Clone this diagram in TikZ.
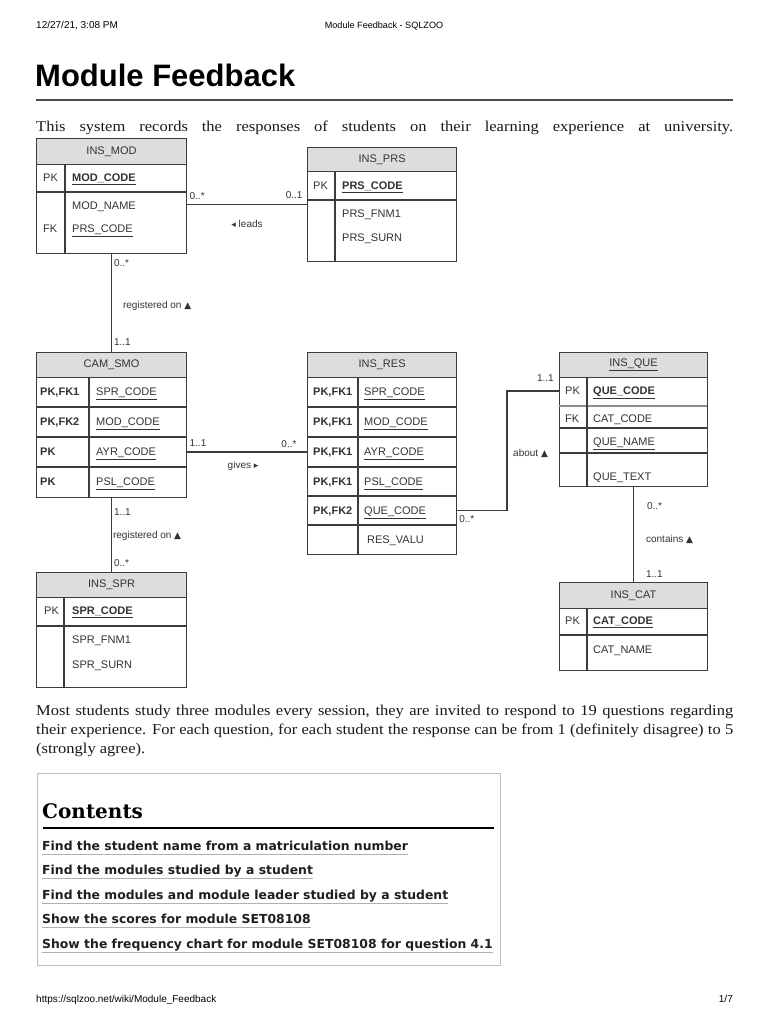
\documentclass[tikz,border=0pt]{standalone}
\usepackage{fontspec}
\setmainfont{Liberation Serif}
\setsansfont{Liberation Sans}
\newfontfamily\bodyfamily{Liberation Serif}[FakeStretch=1.10]
\newfontfamily\erfont{Liberation Sans}
\newfontfamily\symfont{DejaVu Sans}
\newfontfamily\lnkfamily{DejaVu Sans}
\newfontfamily\headfamily{DejaVu Serif}
\usetikzlibrary{positioning}

\definecolor{linegray}{HTML}{3C3C3C}
\definecolor{hdrgray}{HTML}{DDDDDD}
\definecolor{ertext}{HTML}{333333}
\definecolor{framegray}{HTML}{BDBDBD}
\definecolor{ulgray}{HTML}{B0B0B0}

\newcommand\ersize{\erfont\fontsize{11}{13}\selectfont}
\newcommand\cardsize{\erfont\fontsize{10}{12}\selectfont}
\newcommand\uptri{{\symfont\fontsize{9}{9}\selectfont ▲}}
\newcommand\rtri{{\symfont\fontsize{9}{9}\selectfont ▸}}
\newcommand\ltri{{\symfont\fontsize{9}{9}\selectfont ◂}}
\newsavebox\lnkbox
\newcommand\ulink[1]{\sbox\lnkbox{#1}\rlap{\color{ulgray}\rule[-4.5pt]{\wd\lnkbox}{1pt}}\usebox\lnkbox}

\begin{document}
\begin{tikzpicture}[x=1pt, y=-1pt,
  erline/.style={draw=linegray, line width=1.1pt},
  tbox/.style={erline, fill=white, anchor=north west, inner sep=0pt},
  thead/.style={erline, fill=hdrgray, anchor=north west, inner sep=0pt, font=\ersize, text=ertext},
  attr/.style={anchor=west, inner sep=0pt, text height=7.9pt, text depth=0pt, font=\ersize, text=ertext},
  card/.style={inner sep=0pt, text height=7.2pt, text depth=0pt, font=\cardsize, text=ertext},
  rel/.style={erline},
  pagetxt/.style={inner sep=0pt, font=\sffamily\fontsize{10}{12}\selectfont},
  bodytxt/.style={anchor=base west, inner sep=0pt, font=\bodyfamily\fontsize{15}{19}\selectfont, text=black!90},
  lnk/.style={anchor=base west, inner sep=0pt, font=\lnkfamily\bfseries\fontsize{12.4}{15}\selectfont, text=black!88},
]
\useasboundingbox[fill=white] (0,0) rectangle (768,1024);

% page head
\node[pagetxt, anchor=base west] (date) at (36,29) {12/27/21, 3:08 PM};
\node[pagetxt, anchor=base, font=\sffamily\fontsize{9.1}{11}\selectfont] (tabname) at (384,29) {Module Feedback - SQLZOO};
\node[anchor=base west, inner sep=0pt, font=\sffamily\bfseries\fontsize{31}{36}\selectfont] (title) at (35,87) {Module Feedback};
\draw[black!70, line width=1.3pt] (36,100) -- (733,100);
\node[bodytxt] (intro) at (36,132) {\makebox[697pt][s]{This system records the responses of students on their learning experience at university.}};

% INS_MOD
\node[tbox, minimum width=150pt, minimum height=115pt] (insmod) at (36,138) {};
\node[thead, minimum width=150pt, minimum height=26pt] (insmodhd) at (insmod.north west) {INS\_MOD};
\draw[erline] (36,192) -- (186,192);
\draw[erline] (65,164) -- (65,253);
\node[attr] (modk1) at (43,178) {PK};
\node[attr] (modf1) at (72,178) {\textbf{\underline{MOD\_CODE}}};
\node[attr] (modf2) at (72,206) {MOD\_NAME};
\node[attr] (modk3) at (43,229) {FK};
\node[attr] (modf3) at (72,229) {\underline{PRS\_CODE}};

% INS_PRS
\node[tbox, minimum width=149pt, minimum height=114pt] (insprs) at (307,147) {};
\node[thead, minimum width=149pt, minimum height=24pt] (insprshd) at (insprs.north west) {INS\_PRS};
\draw[erline] (307,200) -- (456,200);
\draw[erline] (335,171) -- (335,261);
\node[attr] (prsk1) at (313,186) {PK};
\node[attr] (prsf1) at (342,186) {\textbf{\underline{PRS\_CODE}}};
\node[attr] (prsf2) at (342,214) {PRS\_FNM1};
\node[attr] (prsf3) at (342,238) {PRS\_SURN};

% CAM_SMO
\node[tbox, minimum width=150pt, minimum height=145pt] (camsmo) at (36,352) {};
\node[thead, minimum width=150pt, minimum height=25pt] (camsmohd) at (camsmo.north west) {CAM\_SMO};
\draw[erline] (36,407) -- (186,407);
\draw[erline] (36,437) -- (186,437);
\draw[erline] (36,467) -- (186,467);
\draw[erline] (89,377) -- (89,497);
\node[attr] (smok1) at (40,392) {\textbf{PK,FK1}};
\node[attr] (smok2) at (40,422) {\textbf{PK,FK2}};
\node[attr] (smok3) at (40,452) {\textbf{PK}};
\node[attr] (smok4) at (40,482) {\textbf{PK}};
\node[attr] (smof1) at (96,392) {\underline{SPR\_CODE}};
\node[attr] (smof2) at (96,422) {\underline{MOD\_CODE}};
\node[attr] (smof3) at (96,452) {\underline{AYR\_CODE}};
\node[attr] (smof4) at (96,482) {\underline{PSL\_CODE}};

% INS_RES
\node[tbox, minimum width=149pt, minimum height=202pt] (insres) at (307,352) {};
\node[thead, minimum width=149pt, minimum height=25pt] (insreshd) at (insres.north west) {INS\_RES};
\draw[erline] (307,407) -- (456,407);
\draw[erline] (307,437) -- (456,437);
\draw[erline] (307,467) -- (456,467);
\draw[erline] (307,496) -- (456,496);
\draw[erline] (307,525) -- (456,525);
\draw[erline] (358,377) -- (358,554);
\node[attr] (resk1) at (313,392) {\textbf{PK,FK1}};
\node[attr] (resk2) at (313,422) {\textbf{PK,FK1}};
\node[attr] (resk3) at (313,452) {\textbf{PK,FK1}};
\node[attr] (resk4) at (313,481.5) {\textbf{PK,FK1}};
\node[attr] (resk5) at (313,510.5) {\textbf{PK,FK2}};
\node[attr] (resf1) at (364,392) {\underline{SPR\_CODE}};
\node[attr] (resf2) at (364,422) {\underline{MOD\_CODE}};
\node[attr] (resf3) at (364,452) {\underline{AYR\_CODE}};
\node[attr] (resf4) at (364,481.5) {\underline{PSL\_CODE}};
\node[attr] (resf5) at (364,510.5) {\underline{QUE\_CODE}};
\node[attr] (resf6) at (367,539.5) {RES\_VALU};

% INS_QUE
\node[tbox, minimum width=148pt, minimum height=134pt] (insque) at (559,352) {};
\node[thead, minimum width=148pt, minimum height=25pt] (insquehd) at (insque.north west) {\underline{INS\_QUE}};
\draw[erline, draw=black!45] (559,406) -- (707,406);
\draw[erline] (559,428) -- (707,428);
\draw[erline] (559,453) -- (707,453);
\draw[erline] (587,377) -- (587,486);
\node[attr] (quek1) at (565,391) {PK};
\node[attr] (quef1) at (593,391) {\textbf{\underline{QUE\_CODE}}};
\node[attr] (quek2) at (565,419) {FK};
\node[attr] (quef2) at (593,419) {CAT\_CODE};
\node[attr] (quef3) at (593,442) {\underline{QUE\_NAME}};
\node[attr] (quef4) at (593,477) {QUE\_TEXT};

% INS_CAT
\node[tbox, minimum width=148pt, minimum height=88pt] (inscat) at (559,582) {};
\node[thead, minimum width=148pt, minimum height=26pt] (inscathd) at (inscat.north west) {INS\_CAT};
\draw[erline] (559,635) -- (707,635);
\draw[erline] (587,608) -- (587,670);
\node[attr] (catk1) at (565,621) {PK};
\node[attr] (catf1) at (593,621) {\textbf{\underline{CAT\_CODE}}};
\node[attr] (catf2) at (593,650) {CAT\_NAME};

% INS_SPR
\node[tbox, minimum width=150pt, minimum height=115pt] (insspr) at (36,572) {};
\node[thead, minimum width=150pt, minimum height=25pt] (insssprhd) at (insspr.north west) {INS\_SPR};
\draw[erline] (36,626) -- (186,626);
\draw[erline] (64,597) -- (64,687);
\node[attr] (sprk1) at (44,611) {PK};
\node[attr] (sprf1) at (72,611) {\textbf{\underline{SPR\_CODE}}};
\node[attr] (sprf2) at (72,640) {SPR\_FNM1};
\node[attr] (sprf3) at (72,665) {SPR\_SURN};

% relationships
\draw[rel] (insmod.east |- insprs.west) -- (insprs.west)
  node[card, pos=0, anchor=south west, xshift=2pt, yshift=4pt] (leadsa) {0..*}
  node[card, pos=1, anchor=south east, xshift=-4pt, yshift=5pt] (leadsb) {0..1}
  node[card, pos=0.5, yshift=-19pt] (leadslb) {\ltri\ leads};
\draw[rel] (insmod.south) -- (camsmo.north)
  node[card, pos=0, anchor=north west, xshift=2pt, yshift=-5pt] (regaa) {0..*}
  node[card, pos=0.52, anchor=west, xshift=11pt] (regalb) {registered on \uptri}
  node[card, pos=1, anchor=south west, xshift=2pt, yshift=6pt] (regab) {1..1};
\draw[rel] (camsmo.east |- resk3) -- (insres.west |- resk3)
  node[card, pos=0, anchor=south west, xshift=2pt, yshift=5pt] (givesa) {1..1}
  node[card, pos=1, anchor=south east, xshift=-10pt, yshift=4pt] (givesb) {0..*}
  node[card, pos=0.5, xshift=-4pt, yshift=-13pt] (giveslb) {gives \rtri};
\draw[rel] (camsmo.south) -- (insspr.north)
  node[card, pos=0, anchor=north west, xshift=2pt, yshift=-10pt] (regba) {1..1}
  node[card, pos=0.5, anchor=west, xshift=1pt] (regblb) {registered on \uptri}
  node[card, pos=1, anchor=south west, xshift=2pt, yshift=5pt] (regbb) {0..*};
\coordinate (aboutcol) at (507,0);
\draw[rel] (insres.east |- resk5) -| (aboutcol |- quek1) -- (insque.west |- quek1);
\node[card, anchor=north west] (abouta) at ([xshift=2pt, yshift=-4.5pt]insres.east |- resk5) {0..*};
\node[card, anchor=south east] (aboutb) at ([xshift=-5pt, yshift=9pt]insque.west |- quek1) {1..1};
\node[card, anchor=west] (aboutlb) at (513,453) {about \uptri};
\draw[rel] (insque.south) -- (inscat.north)
  node[card, pos=0, anchor=north west, xshift=13pt, yshift=-15pt] (conta) {0..*}
  node[card, pos=0.55, anchor=west, xshift=12pt] (contlb) {contains \uptri}
  node[card, pos=1, anchor=south west, xshift=12pt, yshift=3.5pt] (contb) {1..1};

% text below
\node[bodytxt] (para1) at (36,715) {\makebox[697pt][s]{Most students study three modules every session, they are invited to respond to 19 questions regarding}};
\node[bodytxt] (para2) at (36,734) {\makebox[697pt][s]{their experience. For each question, for each student the response can be from 1 (definitely disagree) to 5}};
\node[bodytxt] (para3) at (36,753) {(strongly agree).};

% contents box
\draw[framegray, line width=1pt] (37,773) rectangle (500,965);
\node[anchor=base west, inner sep=0pt, font=\headfamily\bfseries\fontsize{20}{24}\selectfont] (contents) at (42,818) {Contents};
\draw[black, line width=2pt] (43,828) -- (494,828);
\node[lnk] (lnk1) at (42,850) {\ulink{Find the student name from a matriculation number}};
\node[lnk] (lnk2) at (42,874) {\ulink{Find the modules studied by a student}};
\node[lnk] (lnk3) at (42,899) {\ulink{Find the modules and module leader studied by a student}};
\node[lnk] (lnk4) at (42,923) {\ulink{Show the scores for module SET08108}};
\node[lnk] (lnk5) at (42,948) {\ulink{Show the frequency chart for module SET08108 for question 4.1}};

% page foot
\node[pagetxt, anchor=base west] (url) at (36,1002) {https://sqlzoo.net/wiki/Module\_Feedback};
\node[pagetxt, anchor=base east] (pageno) at (733,1002) {1/7};
\end{tikzpicture}
\end{document}
